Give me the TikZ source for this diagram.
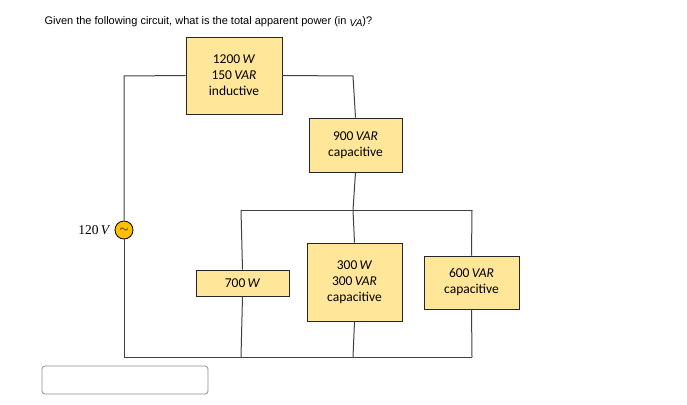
\documentclass[tikz,border=0pt]{standalone}
\usepackage{fontspec}
\setmainfont{Liberation Serif}
\newfontfamily\sansf{Liberation Sans}
\newfontfamily\calf{Carlito}
\definecolor{boxy}{HTML}{FFE699}
\definecolor{srcc}{HTML}{FFC000}
\newcommand{\qty}[2]{{\fontsize{13.5}{14}\selectfont #1\,\textit{#2}}}
\begin{document}
\begin{tikzpicture}[x=1pt,y=-1pt]
\useasboundingbox (0,0) rectangle (687,404);
\tikzset{
  load/.style={draw=black!85,fill=boxy,line width=0.8pt,inner sep=0pt,align=center,font=\calf\fontsize{13.5}{17}\selectfont},
  wire/.style={draw=black!75,line width=1pt}
}
\node[anchor=west,font=\sansf\fontsize{11}{13}\selectfont] (title) at (41,22) {Given the following circuit, what is the total apparent power (in {\raisebox{-2pt}{\fontsize{10}{10}\selectfont\textit{VA}}})?};
\node[load,minimum width=96pt,minimum height=77pt] (b1) at (234,75.5) {\qty{1200}{W}\\[-1pt]\qty{150}{VAR}\\[-1pt]inductive};
\node[load,minimum width=93pt,minimum height=54pt] (b2) at (355.5,145) {\qty{900}{VAR}\\[-1pt]capacitive};
\node[load,minimum width=93pt,minimum height=26pt] (b3) at (242.5,283) {\qty{700}{W}};
\node[load,minimum width=95pt,minimum height=78pt] (b4) at (354.5,282) {\qty{300}{W}\\[-1pt]\qty{300}{VAR}\\[-1pt]capacitive};
\node[load,minimum width=95pt,minimum height=53pt] (b5) at (471.5,282.5) {\qty{600}{VAR}\\[-1pt]capacitive};
\node[circle,draw=black,fill=srcc,line width=0.8pt,minimum size=18pt,inner sep=0pt,font=\bfseries] (src) at (124,230) {\large$\sim$};
\node[anchor=east] (v) at (114,230) {\qty{120}{V}};
\coordinate (tl) at (124,76);
\coordinate (tr) at (353,76);
\coordinate (j1) at (241,210);
\coordinate (j2) at (353,210);
\coordinate (j3) at (472,210);
\coordinate (bl) at (124,357);
\coordinate (m1) at (241,357);
\coordinate (m2) at (353,357);
\coordinate (m3) at (472,357);
\begin{scope}[on background layer/.style={}]
\draw[wire] (src.north) -- (tl) -- (b1.west);
\draw[wire] (b1.east) -- (tr) -- (b2.north);
\draw[wire] (b2.south) -- (j2);
\draw[wire] (j1) -- (j3);
\draw[wire] (j1) -- (b3.north) (b3.south) -- (m1);
\draw[wire] (j2) -- (b4.north) (b4.south) -- (m2);
\draw[wire] (j3) -- (b5.north) (b5.south) -- (m3);
\draw[wire] (src.south) -- (bl) -- (m3);
\end{scope}
\node[draw=black!45,rounded corners=3pt,minimum width=166pt,minimum height=28pt,line width=0.8pt] (ans) at (125,380) {};
\end{tikzpicture}
\end{document}
